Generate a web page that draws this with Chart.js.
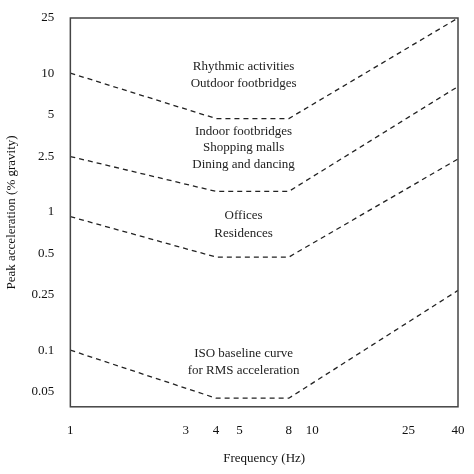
<!DOCTYPE html><html><head><script src="https://cdn.jsdelivr.net/npm/chart.js@4"></script>
<style>body{margin:0;background:#fff}#w{width:474px;height:474px}</style></head><body><div id="w"><canvas id="c"></canvas></div><script>
const freqs=[1,4,8,40];
const rhythmic=[10,4.7,4.7,25];
const indoor=[2.5,1.4,1.4,8];
const offices=[0.92,0.47,0.47,2.4];
const baseline=[0.1,0.045,0.045,0.27];
const xTicks=[1,3,4,5,8,10,25,40];
const yTicks=[0.05,0.1,0.25,0.5,1,2.5,5,10,25];
const labels=[[5.2,[11.2,8.4],["Rhythmic activities","Outdoor footbridges"]],[5.2,[3.8,2.9,2.2],["Indoor footbridges","Shopping malls","Dining and dancing"]],[5.2,[0.94,0.69],["Offices","Residences"]],[5.2,[0.094,0.071],["ISO baseline curve","for RMS acceleration"]]];
const F='"Liberation Serif", serif';
const ds=[rhythmic,indoor,offices,baseline].map(v=>({data:freqs.map((f,i)=>({x:f,y:v[i]})),borderColor:'#222',borderWidth:1.3,borderDash:[5,4],pointRadius:0,fill:false}));
const txt={id:'txt',afterDatasetsDraw(c){const g=c.ctx,x=c.scales.x,y=c.scales.y;g.save();g.font='13px '+F;g.fillStyle='#222';g.textAlign='center';g.textBaseline='middle';
labels.forEach(([fx,ys,ts])=>ts.forEach((t,i)=>g.fillText(t,x.getPixelForValue(fx),y.getPixelForValue(ys[i]))));
g.strokeStyle='#444';g.lineWidth=1.5;g.strokeRect(c.chartArea.left,c.chartArea.top,c.chartArea.right-c.chartArea.left,c.chartArea.bottom-c.chartArea.top);g.restore();}};
new Chart(document.getElementById('c'),{type:'line',data:{datasets:ds},plugins:[txt],options:{animation:false,responsive:true,maintainAspectRatio:false,layout:{padding:{top:18,right:16,left:0,bottom:4}},
plugins:{legend:{display:false},tooltip:{enabled:false}},
scales:{x:{type:'logarithmic',min:1,max:40,afterBuildTicks:a=>{a.ticks=xTicks.map(v=>({value:v}))},grid:{display:false},border:{display:false},ticks:{color:'#111',padding:8,font:{family:F,size:13},autoSkip:false,maxRotation:0,callback:v=>String(v)},title:{display:true,text:'Frequency (Hz)',color:'#111',font:{family:F,size:13}}},
y:{type:'logarithmic',min:0.039,max:25,afterBuildTicks:a=>{a.ticks=yTicks.map(v=>({value:v}))},grid:{display:false},border:{display:false},ticks:{color:'#111',padding:8,font:{family:F,size:13},autoSkip:false,callback:v=>String(v)},title:{display:true,text:'Peak acceleration (% gravity)',color:'#111',font:{family:F,size:13}}}}}});
</script></body></html>
